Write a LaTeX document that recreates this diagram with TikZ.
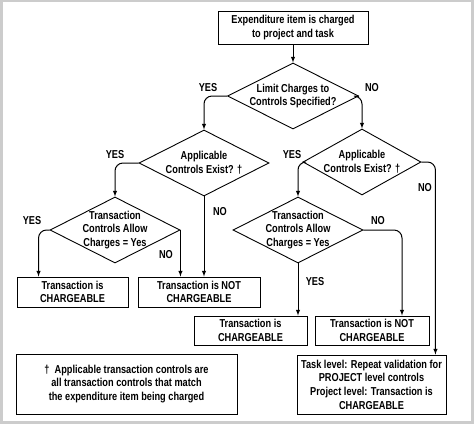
\documentclass[tikz,border=0pt]{standalone}
\usepackage{fontspec}
\setmainfont{Liberation Sans}[FakeStretch=0.80]
\usetikzlibrary{shapes.geometric}

\begin{document}
\begin{tikzpicture}[x=1pt,y=-1pt,
		font=\bfseries\fontsize{11.5}{13.7}\selectfont,
		box/.style={draw,line width=0.9pt,align=center,inner sep=0pt},
		dec/.style={draw,diamond,line width=0.9pt,inner sep=0pt,minimum width=130pt,minimum height=66pt},
		arr/.style={-latex,line width=1pt,rounded corners=8pt},
		ans/.style={inner sep=0pt}]
		\useasboundingbox (0,0) rectangle (474,424);
		\fill[black!20] (0,0) rectangle (474,424);
		\fill[white] (3,2) rectangle (471,421);
		% start and decisions
		\node[box,minimum width=150pt,minimum height=33pt] (start) at (293,27.5) {Expenditure item is charged\\to project and task};
		\node[dec,minimum width=131pt,label={[align=center]center:Limit Charges to\\Controls Specified?}] (limit) at (293,96) {};
		\node[dec,label={[align=center]center:Applicable\\Controls Exist? \dag}] (existL) at (204,163) {};
		\node[dec,label={[align=center]center:Transaction\\Controls Allow\\Charges = Yes}] (allowL) at (115,230) {};
		\node[dec,minimum width=118pt,label={[align=center]center:Applicable\\Controls Exist? \dag}] (existR) at (362,162) {};
		\node[dec,label={[align=center]center:Transaction\\Controls Allow\\Charges = Yes}] (allowR) at (298,230) {};
		% results
		\node[box,minimum width=111pt,minimum height=30pt] (chgL) at (72.5,292) {Transaction is\\CHARGEABLE};
		\node[box,minimum width=122pt,minimum height=30pt] (notL) at (199,292) {Transaction is NOT\\CHARGEABLE};
		\node[box,minimum width=113pt,minimum height=29pt] (chgR) at (250.5,330.5) {Transaction is\\CHARGEABLE};
		\node[box,minimum width=114pt,minimum height=29pt] (notR) at (372,330.5) {Transaction is NOT\\CHARGEABLE};
		\node[box,minimum width=149pt,minimum height=59pt] (proj) at (371.5,384.5) {Task level: Repeat validation for\\PROJECT level controls\\Project level: Transaction is\\CHARGEABLE};
		\node[box,minimum width=221pt,minimum height=60pt] (note) at (126.5,384) {\dag\ \ Applicable transaction controls are\\all transaction controls that match\\the expenditure item being charged};
		% connectors
		\draw[arr] (start) -- (limit.north);
		\draw[arr] (limit.west) -| (existL.north);
		\draw[arr] (limit.east) -| (existR.north);
		\draw[arr] (existL.west) -| (allowL.north);
		\draw[arr] (existL.south) -- (existL.south |- notL.north);
		\draw[arr] (allowL.west) -| ([xshift=22pt]chgL.north west);
		\draw[arr] (allowL.east) -- (allowL.east |- notL.north);
		\draw[arr] (existR.west) -| (allowR.north);
		\draw[arr] (existR.east) -| ([xshift=-11pt]proj.north east);
		\draw[arr] (allowR.east) -| ([xshift=30pt]notR.north);
		\draw[arr] (allowR.south) -- (allowR.south |- chgR.north);
		% answers
		\node[ans] (yes1) at (208,88) {YES};
		\node[ans] (no1) at (372,88) {NO};
		\node[ans] (yes2) at (115,155) {YES};
		\node[ans] (no2) at (220,212) {NO};
		\node[ans] (yes3) at (32,221) {YES};
		\node[ans] (no3) at (166,255) {NO};
		\node[ans] (yes4) at (292,155) {YES};
		\node[ans] (no4) at (425,188) {NO};
		\node[ans] (no5) at (378,221) {NO};
		\node[ans] (yes5) at (315,282) {YES};
\end{tikzpicture}
\end{document}
